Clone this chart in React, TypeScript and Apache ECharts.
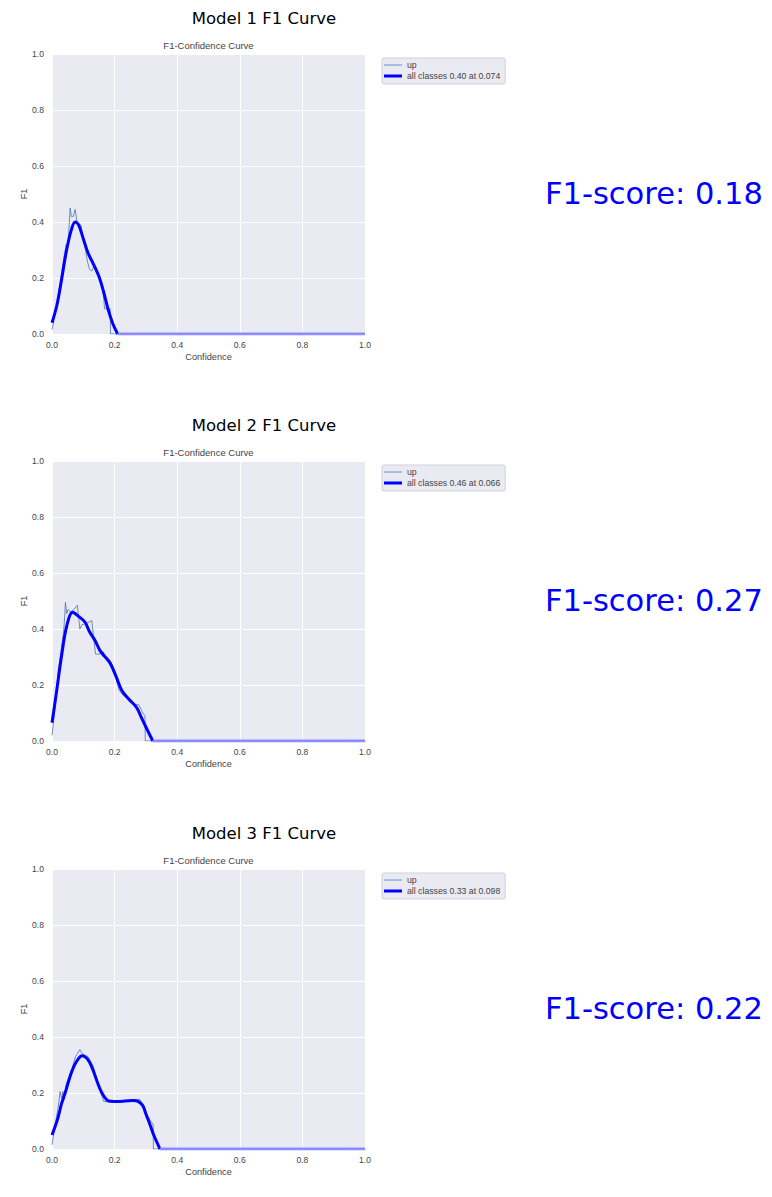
import React, { useEffect, useRef } from "react";
import * as echarts from "echarts";

// ---- data ----
const PANEL_TITLES = ["Model 1 F1 Curve", "Model 2 F1 Curve", "Model 3 F1 Curve"];
const PLOT_TITLE = "F1-Confidence Curve";
const CLASS_NAME = "up";
const ALL_LABELS = ["all classes 0.40 at 0.074", "all classes 0.46 at 0.066", "all classes 0.33 at 0.098"];
const F1_SCORES = [0.18, 0.27, 0.22];
const AXIS_TICKS = [0, 0.2, 0.4, 0.6, 0.8, 1.0];

const MODEL1_UP: [number, number][] = [
  [0.0, 0.015], [0.008, 0.06], [0.02, 0.14], [0.035, 0.25], [0.045, 0.32], [0.05, 0.31],
  [0.055, 0.39], [0.058, 0.45], [0.062, 0.42], [0.068, 0.42], [0.074, 0.445], [0.08, 0.4],
  [0.087, 0.385], [0.092, 0.39], [0.1, 0.34], [0.107, 0.3], [0.113, 0.26], [0.12, 0.23],
  [0.127, 0.225], [0.133, 0.24], [0.14, 0.24], [0.147, 0.22], [0.155, 0.19], [0.162, 0.17],
  [0.168, 0.09], [0.175, 0.09], [0.186, 0.09], [0.187, 0.0], [1.0, 0.0],
];
const MODEL1_ALL: [number, number][] = [
  [0.0, 0.04], [0.015, 0.1], [0.03, 0.19], [0.045, 0.29], [0.06, 0.365], [0.074, 0.4],
  [0.085, 0.39], [0.1, 0.34], [0.115, 0.29], [0.13, 0.255], [0.15, 0.205], [0.165, 0.15],
  [0.18, 0.085], [0.195, 0.035], [0.21, 0.0],
];

const MODEL2_UP: [number, number][] = [
  [0.0, 0.02], [0.01, 0.12], [0.02, 0.25], [0.03, 0.33], [0.038, 0.4], [0.043, 0.495],
  [0.047, 0.455], [0.052, 0.47], [0.06, 0.46], [0.07, 0.47], [0.081, 0.485], [0.089, 0.4],
  [0.095, 0.415], [0.11, 0.42], [0.127, 0.43], [0.139, 0.31], [0.15, 0.31], [0.163, 0.32],
  [0.175, 0.29], [0.19, 0.26], [0.205, 0.22], [0.215, 0.18], [0.23, 0.16], [0.25, 0.145],
  [0.265, 0.13], [0.277, 0.13], [0.29, 0.1], [0.297, 0.09], [0.298, 0.0], [1.0, 0.0],
];
const MODEL2_ALL: [number, number][] = [
  [0.0, 0.065], [0.015, 0.18], [0.03, 0.3], [0.047, 0.41], [0.066, 0.46], [0.085, 0.445],
  [0.105, 0.425], [0.12, 0.39], [0.137, 0.36], [0.155, 0.32], [0.17, 0.3], [0.185, 0.28],
  [0.205, 0.23], [0.223, 0.18], [0.245, 0.15], [0.27, 0.12], [0.285, 0.085], [0.3, 0.05],
  [0.322, 0.0],
];

const MODEL3_UP: [number, number][] = [
  [0.0, 0.015], [0.005, 0.05], [0.012, 0.1], [0.02, 0.15], [0.026, 0.205], [0.031, 0.18],
  [0.035, 0.205], [0.038, 0.175], [0.045, 0.23], [0.055, 0.26], [0.065, 0.29], [0.075, 0.33],
  [0.089, 0.355], [0.097, 0.34], [0.105, 0.335], [0.115, 0.33], [0.125, 0.31], [0.132, 0.295],
  [0.14, 0.26], [0.148, 0.23], [0.158, 0.195], [0.165, 0.17], [0.18, 0.168], [0.21, 0.17],
  [0.25, 0.172], [0.28, 0.178], [0.295, 0.15], [0.305, 0.12], [0.318, 0.095], [0.323, 0.09],
  [0.324, 0.0], [1.0, 0.0],
];
const MODEL3_ALL: [number, number][] = [
  [0.0, 0.05], [0.01, 0.08], [0.02, 0.115], [0.03, 0.16], [0.042, 0.2], [0.058, 0.26],
  [0.07, 0.295], [0.08, 0.315], [0.09, 0.33], [0.098, 0.333], [0.11, 0.325], [0.12, 0.31],
  [0.13, 0.285], [0.143, 0.245], [0.155, 0.21], [0.165, 0.19], [0.18, 0.172], [0.2, 0.17],
  [0.23, 0.171], [0.26, 0.173], [0.275, 0.17], [0.29, 0.155], [0.3, 0.125], [0.312, 0.09],
  [0.325, 0.05], [0.345, 0.0],
];

const UP_SERIES = [MODEL1_UP, MODEL2_UP, MODEL3_UP];
const ALL_SERIES = [MODEL1_ALL, MODEL2_ALL, MODEL3_ALL];

// ---- layout ----
const W = 772;
const H = 1197;
const OFFSETS = [0, 407, 815];
const GRID_LEFT = 52;
const GRID_TOP = 54;
const GRID_W = 313;
const GRID_H = 280;
const SANS = "'Liberation Sans', Arial, sans-serif";
const DEJAVU = "'DejaVu Sans', sans-serif";
const TXT = "#444444";
const THIN_ICON = "path://M0,0H18V1H0Z";
const THICK_ICON = "path://M0,0H18V3H0Z";

export default function App() {
  const ref = useRef<HTMLDivElement>(null);

  useEffect(() => {
    if (!ref.current) return;
    const chart = echarts.init(ref.current, undefined, { renderer: "svg" });

    const grids: any[] = [];
    const xAxes: any[] = [];
    const yAxes: any[] = [];
    const legends: any[] = [];
    const series: any[] = [];
    const graphics: any[] = [];

    OFFSETS.forEach((off, i) => {
      grids.push({
        left: GRID_LEFT,
        top: GRID_TOP + off,
        width: GRID_W,
        height: GRID_H,
        show: true,
        backgroundColor: "#EAEAF2",
        borderWidth: 0,
      });
      const axisCommon = {
        gridIndex: i,
        type: "value",
        min: AXIS_TICKS[0],
        max: AXIS_TICKS[AXIS_TICKS.length - 1],
        interval: AXIS_TICKS[1] - AXIS_TICKS[0],
        axisLine: { show: false },
        axisTick: { show: false },
        splitLine: { show: true, lineStyle: { color: "#ffffff", width: 1 } },
        nameTextStyle: { fontFamily: SANS, fontSize: 9.2, color: TXT },
      };
      const labelCommon = {
        fontFamily: SANS,
        fontSize: 8.6,
        color: TXT,
        formatter: (v: number) => v.toFixed(1),
      };
      xAxes.push({
        ...axisCommon,
        name: "Confidence",
        nameLocation: "middle",
        nameGap: 18,
        axisLabel: { ...labelCommon, margin: 6 },
      });
      yAxes.push({
        ...axisCommon,
        name: "F1",
        nameLocation: "middle",
        nameGap: 24,
        axisLabel: { ...labelCommon, margin: 8 },
      });
      legends.push({
        data: [
          { name: CLASS_NAME, icon: THIN_ICON },
          { name: ALL_LABELS[i], icon: THICK_ICON },
        ],
        orient: "vertical",
        left: 382,
        top: 58 + off,
        itemWidth: 18,
        itemHeight: 10,
        itemGap: 1,
        symbolKeepAspect: true,
        padding: [2, 5, 3, 2],
        backgroundColor: "#EAEAF2",
        borderColor: "#d0d0d8",
        borderWidth: 1,
        borderRadius: 2,
        selectedMode: false,
        textStyle: { fontFamily: SANS, fontSize: 8.7, color: TXT, lineHeight: 10 },
      });
      series.push({
        type: "line",
        name: CLASS_NAME,
        xAxisIndex: i,
        yAxisIndex: i,
        data: UP_SERIES[i],
        symbol: "none",
        lineStyle: { color: "#4c72b0", width: 1, opacity: 0.8 },
        itemStyle: { color: "#6f8fca" },
        z: 2,
      });
      const all = ALL_SERIES[i];
      series.push({
        type: "line",
        name: ALL_LABELS[i],
        xAxisIndex: i,
        yAxisIndex: i,
        data: all,
        symbol: "none",
        smooth: 0.35,
        lineStyle: { color: "#0000ff", width: 3 },
        itemStyle: { color: "#0000ff" },
        z: 3,
      });
      const last = all[all.length - 1];
      series.push({
        type: "line",
        name: "_tail" + i,
        xAxisIndex: i,
        yAxisIndex: i,
        data: [last, [AXIS_TICKS[AXIS_TICKS.length - 1], last[1]]],
        symbol: "none",
        lineStyle: { color: "#8c8cff", width: 3 },
        clip: true,
        z: 3,
      });
      graphics.push({
        type: "text",
        x: 264,
        y: 18 + off,
        style: {
          text: PANEL_TITLES[i],
          fontFamily: DEJAVU,
          fontSize: 16.5,
          fill: "#000000",
          textAlign: "center",
          textVerticalAlign: "middle",
        },
      });
      graphics.push({
        type: "text",
        x: GRID_LEFT + GRID_W / 2,
        y: 45.5 + off,
        style: {
          text: PLOT_TITLE,
          fontFamily: SANS,
          fontSize: 9.5,
          fill: TXT,
          textAlign: "center",
          textVerticalAlign: "middle",
        },
      });
      graphics.push({
        type: "text",
        x: 545,
        y: 193 + off,
        style: {
          text: "F1-score: " + F1_SCORES[i].toFixed(2),
          fontFamily: DEJAVU,
          fontSize: 30.5,
          fill: "#0000ff",
          textAlign: "left",
          textVerticalAlign: "middle",
        },
      });
    });

    chart.setOption({
      animation: false,
      backgroundColor: "#ffffff",
      grid: grids,
      xAxis: xAxes,
      yAxis: yAxes,
      legend: legends,
      series,
      graphic: graphics,
    });

    return () => chart.dispose();
  }, []);

  return (
    <div
      ref={ref}
      style={{ position: "absolute", left: 0, top: 0, width: W, height: H, background: "#fff" }}
    />
  );
}
